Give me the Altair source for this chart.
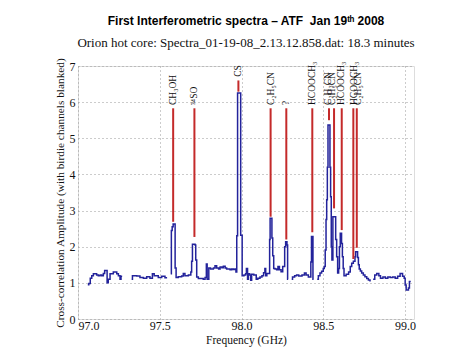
import altair as alt
import pandas as pd

# ---- spectrum (freq GHz, amplitude), segments separated by blanked birdie channels
seg1_f = [97.060, 97.066, 97.075, 97.084, 97.094, 97.114, 97.124, 97.135, 97.145, 97.155,
          97.163, 97.178, 97.185, 97.196, 97.216, 97.237, 97.247, 97.257, 97.263, 97.270]
seg1_a = [0.95, 0.98, 1.13, 1.20, 1.25, 1.22, 1.20, 1.22, 1.20, 1.26,
          1.34, 1.00, 1.10, 1.25, 1.30, 1.25, 1.20, 1.10, 1.18, 1.18]

seg2_f = [97.328, 97.333, 97.359, 97.379, 97.400, 97.420, 97.440, 97.455, 97.466, 97.491,
          97.512, 97.532, 97.545]
seg2_a = [1.10, 1.20, 1.19, 1.15, 1.13, 1.17, 1.13, 1.25, 1.20, 1.15,
          1.18, 1.14, 1.14]

seg3_f = [97.567, 97.571, 97.576, 97.582, 97.594, 97.600, 97.613, 97.634, 97.644, 97.654,
          97.675, 97.690, 97.695, 97.700, 97.716, 97.720, 97.726, 97.736, 97.756, 97.766,
          97.777, 97.785, 97.790, 97.800, 97.811, 97.828, 97.838, 97.848, 97.860, 97.869,
          97.880, 97.889, 97.900, 97.909, 97.920, 97.930, 97.940, 97.950, 97.960, 97.966,
          97.971, 97.976, 97.995, 98.004, 98.015, 98.025, 98.030, 98.037, 98.042, 98.050,
          98.056, 98.062, 98.075, 98.090, 98.100, 98.113, 98.125, 98.135, 98.143, 98.148,
          98.155, 98.166, 98.172, 98.175, 98.186, 98.191, 98.197, 98.205, 98.215, 98.223,
          98.232, 98.242, 98.252, 98.264, 98.270, 98.278, 98.282, 98.285]
seg3_a = [1.25, 2.45, 2.55, 2.63, 1.41, 1.15, 1.17, 1.19, 1.26, 1.20,
          1.22, 1.30, 1.60, 2.07, 2.05, 1.63, 1.16, 1.12, 1.12, 1.10,
          1.15, 1.52, 1.10, 1.41, 1.38, 1.41, 1.47, 1.41, 1.38, 1.44,
          1.42, 1.46, 1.41, 1.38, 1.38, 1.36, 1.38, 1.37, 1.38, 1.30,
          2.30, 6.25, 2.32, 1.20, 1.22, 1.25, 1.40, 1.10, 1.25, 1.22,
          1.07, 1.24, 1.22, 1.10, 1.13, 1.16, 1.20, 1.28, 1.40, 1.20,
          1.26, 1.26, 2.20, 2.79, 2.24, 1.75, 1.40, 1.38, 1.36, 1.45,
          1.36, 1.31, 1.45, 2.00, 2.14, 2.05, 1.10, 1.10]

seg4_f = [98.307, 98.312, 98.325, 98.337, 98.350, 98.370, 98.385, 98.395, 98.409, 98.424,
          98.428, 98.437, 98.441]
seg4_a = [1.10, 1.16, 1.20, 1.22, 1.19, 1.22, 1.27, 1.22, 1.16, 1.58,
          2.28, 1.10, 1.10]

seg5_f = [98.463, 98.470, 98.480, 98.490, 98.500, 98.506, 98.512, 98.517, 98.521, 98.525,
          98.529, 98.541, 98.545, 98.549, 98.553, 98.559, 98.576, 98.582, 98.588, 98.594,
          98.599, 98.604, 98.612, 98.617, 98.622, 98.627, 98.640, 98.655, 98.665, 98.674,
          98.684, 98.694, 98.698, 98.710, 98.715, 98.720, 98.727, 98.735, 98.745, 98.755,
          98.766, 98.776, 98.786]
seg5_a = [1.10, 1.20, 1.27, 1.32, 1.40, 1.45, 1.91, 2.75, 3.30, 4.20,
          5.37, 4.20, 3.38, 2.00, 1.63, 2.83, 2.20, 1.72, 1.27, 1.40,
          2.00, 2.37, 2.09, 1.72, 1.40, 1.20, 1.24, 1.30, 1.45, 1.54,
          1.60, 1.72, 1.86, 1.70, 1.50, 1.38, 1.33, 1.27, 1.22, 1.17,
          1.12, 1.08, 1.04]

seg6_f = [98.805, 98.815, 98.827, 98.840, 98.850, 98.865, 98.880, 98.895, 98.910, 98.925,
          98.940, 98.955, 98.970, 98.985, 98.995, 99.001, 99.007, 99.021, 99.027, 99.035]
seg6_a = [1.10, 1.22, 1.26, 1.20, 1.13, 1.16, 1.13, 1.16, 1.15, 1.16,
          1.13, 1.18, 1.26, 1.18, 1.13, 0.94, 0.80, 0.86, 1.04, 1.04]

# ---- line identifications
line_freqs = [97.582, 97.712, 97.981, 98.178, 98.274, 98.433, 98.535, 98.566, 98.613, 98.684, 98.705]
line_tops = [5.83, 5.83, 6.60, 5.83, 5.83, 5.83, 5.83, 5.83, 5.83, 5.83, 5.83]
line_bottoms = [2.69, 2.27, 6.29, 2.83, 2.20, 2.40, 5.50, 3.06, 2.46, 1.66, 1.97]

label_texts = ["CH₃OH", "³⁴SO", "CS", "C₂H₅CN", "?", "HCOOCH₃",
               "C₂H₃CN", "C₂H₅CN", "HCOOCH₃", "HCOOCH₃", "C₂H₅CN"]
label_freqs = [97.582, 97.712, 97.981, 98.178, 98.274, 98.433,
               98.526, 98.555, 98.610, 98.685, 98.712]
label_bases = [5.92, 5.92, 6.70, 5.92, 5.92, 5.92, 5.92, 5.92, 5.92, 5.92, 5.92]

x_ticks = [97.0, 97.5, 98.0, 98.5, 99.0]
y_ticks = [0, 1, 2, 3, 4, 5, 6, 7]

rows = []
for i, (fs, as_) in enumerate([(seg1_f, seg1_a), (seg2_f, seg2_a), (seg3_f, seg3_a),
                               (seg4_f, seg4_a), (seg5_f, seg5_a), (seg6_f, seg6_a)]):
    for f, a in zip(fs, as_):
        rows.append({"freq": f, "amp": a, "seg": i})
spec = pd.DataFrame(rows)
lines = pd.DataFrame({"freq": line_freqs, "top": line_tops, "bottom": line_bottoms})
labels = pd.DataFrame({"freq": label_freqs, "base": label_bases, "text": label_texts})

SERIF = "Liberation Serif"
xscale = alt.Scale(domain=[97.0, 99.055], nice=False, zero=False)
yscale = alt.Scale(domain=[0, 7], nice=False, zero=False)

xaxis = alt.Axis(values=x_ticks, format=".1f", title="Frequency (GHz)", grid=True,
                 gridDash=[1, 3], gridColor="#999", gridWidth=1, ticks=False, domain=False,
                 labelFont=SERIF, labelFontSize=12, labelColor="#111", labelPadding=1,
                 labelOverlap=False,
                 titleFont=SERIF, titleFontSize=11.5, titleFontWeight="normal",
                 titleColor="#111", titlePadding=3)
yaxis = alt.Axis(values=y_ticks, format="d", title="Cross-correlation Amplitude (with birdie channels blanked)",
                 grid=True, gridDash=[1, 3], gridColor="#999", gridWidth=1, ticks=False, domain=False,
                 labelFont=SERIF, labelFontSize=12, labelColor="#111", labelPadding=3,
                 labelOverlap=False,
                 titleFont=SERIF, titleFontSize=11.3, titleFontWeight="normal",
                 titleColor="#111", titlePadding=4)

X = alt.X("freq:Q", scale=xscale, axis=xaxis)

spectrum = alt.Chart(spec).mark_line(color="#23239b", strokeWidth=1.5, interpolate="step-after").encode(
    x=X,
    y=alt.Y("amp:Q", scale=yscale, axis=yaxis),
    detail="seg:N",
)

rules = alt.Chart(lines).mark_rule(color="#c42a2a", strokeWidth=2).encode(
    x=X, y=alt.Y("top:Q", scale=yscale, axis=yaxis), y2="bottom:Q"
)

texts = alt.Chart(labels).mark_text(angle=270, align="left", baseline="middle",
                                    font=SERIF, fontSize=9.5, color="#111").encode(
    x=X, y=alt.Y("base:Q", scale=yscale, axis=yaxis), text="text:N"
)

chart = alt.layer(spectrum, rules, texts).properties(
    width=336, height=253,
    title=alt.TitleParams(
        text="First Interferometric spectra – ATF\u00a0\u00a0Jan 19ᵗʰ 2008",
        subtitle="Orion hot core: Spectra_01-19-08_2.13.12.858.dat: 18.3 minutes",
        font="Liberation Sans", fontSize=12, fontWeight="bold", color="#000",
        subtitleFont=SERIF, subtitleFontSize=13, subtitleColor="#111",
        subtitlePadding=9, anchor="middle", offset=6,
    ),
    autosize=alt.AutoSizeParams(type="none"),
    padding={"left": 78, "top": 66, "right": 60, "bottom": 36},
).configure_view(stroke="#111", strokeWidth=1.5).configure(background="white")

chart.save("out.html", embed_options={"renderer": "svg", "actions": False})
